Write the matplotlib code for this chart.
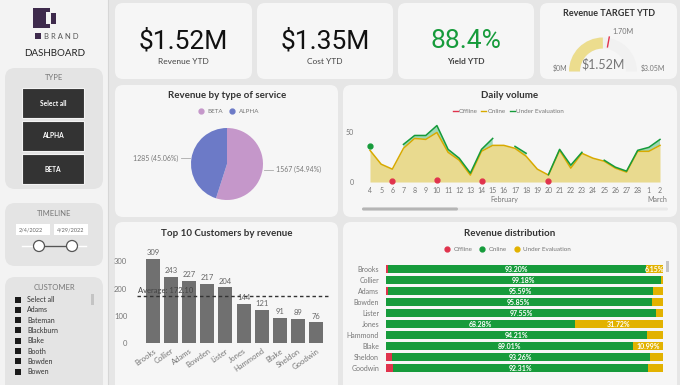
import numpy as np
import matplotlib.pyplot as plt
from matplotlib.patches import FancyBboxPatch, Rectangle, Circle, Wedge
from matplotlib.lines import Line2D

plt.rcParams['font.family'] = ['Lato', 'DejaVu Sans']

# ---- data ----
kpi_values = ['$1.52M', '$1.35M', '88.4%']
kpi_labels = ['Revenue YTD', 'Cost YTD', 'Yield YTD']
revenue_ytd = 1.52
revenue_target = 1.70
gauge_max = 3.05

service_types = ['BETA', 'ALPHA']
service_revenue = [1567, 1285]

day_labels = ['4', '5', '6', '7', '8', '9', '10', '11', '12', '13', '14', '15', '16',
              '17', '18', '19', '20', '21', '22', '23', '24', '25', '26', '27', '28', '1', '2']
nan = np.nan
offline = [nan, nan, 1, nan, nan, nan, 2, nan, nan, nan, 1, nan, nan, nan,
           nan, nan, 1, nan, nan, nan, nan, nan, nan, nan, nan, nan, nan]
online = [32, 18, 12, 34, 44, 43, 48, 30, 22, 7, 30, 37, 37, 34,
          26, 13, 6, 32, 14, 29, 24, 21, 14, 10, 31, 31, 37]
under_eval = [4, nan, nan, 4, 3, 4, 7, 3, 2, 2, 2, 7, nan, 2,
              3, nan, 0.5, 1, 3, 1, nan, 1, 1, 1, 1, 4, 6]

top_customers = ['Brooks', 'Collier', 'Adams', 'Bowden', 'Lister', 'Jones',
                 'Hammond', 'Blake', 'Sheldon', 'Goodwin']
top_revenue = [309, 243, 227, 217, 204, 144, 121, 91, 89, 76]
avg_revenue = 172.10

dist_offline = [0.65, 0.0, 0.84, 0.0, 0.0, 0.0, 0.0, 0.0, 2.05, 2.40]
dist_online = [93.20, 99.18, 95.59, 95.85, 97.55, 68.28, 94.21, 89.01, 93.26, 92.31]
dist_eval = [6.15, 0.82, 3.57, 4.15, 2.45, 31.72, 5.79, 10.99, 4.69, 5.29]

type_buttons = ['Select all', 'ALPHA', 'BETA']
date_range = ['2/4/2022', '4/29/2022']
customer_list = ['Select all', 'Adams', 'Bateman', 'Blackburn', 'Blake', 'Booth', 'Bowden', 'Bowen']

# ---- colours ----
c_off = '#e0334d'
c_on = '#169b3b'
c_ue = '#e2b200'
c_beta = '#c597ca'
c_alpha = '#6c7ac7'
grey_txt = '#777777'

W, H = 680, 385
fig = plt.figure(figsize=(6.8, 3.85), dpi=100)
fig.patch.set_facecolor('#e6e6e6')

bg = fig.add_axes([0, 0, 1, 1])
bg.set_xlim(0, W)
bg.set_ylim(H, 0)
bg.axis('off')


def px_axes(x0, y0, x1, y1):
    a = fig.add_axes([x0 / W, 1 - y1 / H, (x1 - x0) / W, (y1 - y0) / H])
    a.set_facecolor('none')
    return a


def card(x0, y0, x1, y1, color='#f6f6f6', r=8):
    bg.add_patch(FancyBboxPatch((x0, y0), x1 - x0, y1 - y0,
                                boxstyle='round,pad=0,rounding_size=%d' % r,
                                fc=color, ec='none'))


# sidebar
bg.add_patch(Rectangle((0, 0), 108, H, fc='#f3f3f3', ec='none'))
bg.plot([108, 108], [0, H], color='#d6d6d6', lw=0.8)
bg.add_patch(Rectangle((33, 8), 17, 20, fc='#3e2a4c', ec='none'))
bg.add_patch(Rectangle((46, 12), 5, 12, fc='#f3f3f3', ec='none'))
bg.add_patch(Rectangle((51, 13), 5, 11, fc='#3e2a4c', ec='none'))
bg.add_patch(Rectangle((35, 33), 6, 6, fc='#3e2a4c', ec='none'))
bg.text(44, 36.5, 'B R A N D', fontsize=5.5, color='#555555', va='center')
bg.text(55, 53, 'DASHBOARD', fontsize=7, color='#222222', ha='center', va='center')

card(5, 68, 103, 189, '#e4e4e4', 10)
bg.text(54, 78, 'TYPE', fontsize=5.5, color=grey_txt, ha='center', va='center')
for i, lab in enumerate(type_buttons):
    y0 = 88 + i * 33
    bg.add_patch(Rectangle((22, y0), 62, 30, fc='#333333', ec='#f3f3f3', lw=0.8))
    bg.text(53, y0 + 15, lab, fontsize=4.8, color='white', weight='bold', ha='center', va='center')

card(5, 203, 103, 266, '#e4e4e4', 10)
bg.text(54, 213, 'TIMELINE', fontsize=5.5, color=grey_txt, ha='center', va='center')
for i, d in enumerate(date_range):
    x0 = 16 + i * 38
    bg.add_patch(Rectangle((x0, 224), 34, 11, fc='white', ec='none'))
    bg.text(x0 + 3, 229.5, d, fontsize=4, color='#666666', va='center')
bg.plot([22, 86], [246, 246], color='#ffffff', lw=1, zorder=2)
bg.plot([39, 72], [246, 246], color='#555555', lw=1, zorder=3)
for cx in [39, 72]:
    bg.add_patch(Circle((cx, 246), 5.5, fc='white', ec='#555555', lw=0.9, zorder=4))

card(5, 277, 103, 395, '#e4e4e4', 10)
bg.text(54, 288, 'CUSTOMER', fontsize=5.5, color=grey_txt, ha='center', va='center')
bg.add_patch(Rectangle((91, 294), 3, 11, fc='#c4c4c4', ec='none'))
for i, name in enumerate(customer_list):
    y = 299.5 + i * 10.3
    bg.add_patch(Rectangle((15, y - 3), 6, 6, fc='#1a1a1a', ec='none'))
    bg.text(27, y, name, fontsize=5, color='#333333', va='center')

# KPI cards
kpi_boxes = [(115, 252), (257, 393), (398, 534)]
for (x0, x1), val, lab in zip(kpi_boxes, kpi_values, kpi_labels):
    card(x0, 3, x1, 79)
    cx = (x0 + x1) / 2
    col = c_on if '%' in val else '#111111'
    bg.text(cx, 41, val, fontsize=19, color=col, ha='center', va='center', family=['Roboto', 'DejaVu Sans'])
    w = 'bold' if '%' in val else 'normal'
    bg.text(cx, 62, lab, fontsize=6, color='#444444', ha='center', va='center', weight=w)

# gauge
card(540, 3, 677, 79)
bg.text(609, 14, 'Revenue TARGET YTD', fontsize=6.5, color='#333333', ha='center', va='center', weight='bold')
gx, gy, r_out, r_in = 603, 71.5, 34, 23
frac = revenue_ytd / gauge_max
bg.add_patch(Wedge((gx, gy), r_out, 180, 360, width=r_out - r_in, fc='#f1f1f1', ec='none'))
bg.add_patch(Wedge((gx, gy), r_out, 180, 180 + frac * 180, width=r_out - r_in, fc='#ecdd8e', ec='none'))
ta = np.deg2rad(180 + revenue_target / gauge_max * 180)
bg.plot([gx + 25 * np.cos(ta), gx + 35 * np.cos(ta)], [gy + 25 * np.sin(ta), gy + 35 * np.sin(ta)],
        color=c_off, lw=1)
bg.text(612, 32, '%.2fM' % revenue_target, fontsize=5.2, color=grey_txt, va='center')
bg.text(gx, 64, '$%.2fM' % revenue_ytd, fontsize=9, color='#777777', ha='center', va='center')
bg.text(560, 68.5, '$0M', fontsize=5, color=grey_txt, ha='center', va='center')
bg.text(653, 68.5, '$%.2fM' % gauge_max, fontsize=5, color=grey_txt, ha='center', va='center')

# chart cards
card(115, 85, 338, 217)
card(343, 85, 677, 217)
card(115, 222, 338, 395)
card(343, 222, 677, 395)

# ---- pie ----
bg.text(227, 96, 'Revenue by type of service', fontsize=7, color='#333333', ha='center', va='center', weight='bold')
axp = px_axes(191, 128, 263, 200)
axp.pie(service_revenue, colors=[c_beta, c_alpha], startangle=90, counterclock=False, radius=1)
axp.set_xlim(-1, 1)
axp.set_ylim(-1, 1)
axp.set_aspect('equal')
tot = sum(service_revenue)
start = 90
for v, name in zip(service_revenue, service_types):
    span = v / tot * 360
    mid = np.deg2rad(start - span / 2)
    start -= span
    ex, ey = 1.04 * np.cos(mid), 1.04 * np.sin(mid)
    side = 1 if ex > 0 else -1
    axp.plot([ex, ex + side * 0.24], [ey, ey], color='#aaaaaa', lw=0.6, clip_on=False)
    axp.text(ex + side * 0.32, ey, '%d (%.2f%%)' % (v, v / tot * 100), fontsize=5, color=grey_txt,
             ha='left' if side > 0 else 'right', va='center', clip_on=False)
h_pie = [Line2D([], [], marker='o', ls='', color=c, markersize=3.5) for c in [c_beta, c_alpha]]
fig.legend(h_pie, service_types, loc='center', bbox_to_anchor=(227 / W, 1 - 111 / H), ncol=2,
           frameon=False, fontsize=4.5, handletextpad=0.1, columnspacing=0.5, labelcolor=grey_txt)

# ---- daily volume ----
bg.text(510, 96, 'Daily volume', fontsize=7, color='#333333', ha='center', va='center', weight='bold')
axd = px_axes(362, 120.6, 668, 184)
x = np.arange(len(day_labels))
off = np.array(offline, dtype=float)
on_top = np.nan_to_num(off) + np.array(online, dtype=float)
ue = np.array(under_eval, dtype=float)
ue_top = on_top + ue
axd.fill_between(x, 0, on_top, color='#e9da8f', lw=0)
axd.fill_between(x, on_top, ue_top, where=~np.isnan(ue), color='#9fd8b4', lw=0, interpolate=False)
axd.plot(x, on_top, color='#d8aa00', lw=1.1)
axd.plot(x, ue_top, color=c_on, lw=1.1)
iso = [i for i in range(len(x)) if not np.isnan(ue[i]) and (i == 0 or np.isnan(ue[i - 1]))
       and (i == len(x) - 1 or np.isnan(ue[i + 1]))]
axd.plot(x[iso], ue_top[iso], 'o', color=c_on, markersize=3.5)
axd.plot(x, off, 'o', color=c_off, markersize=3.5, clip_on=False)
axd.set_xlim(-0.717, 26.717)
axd.set_ylim(-2, 62)
axd.set_xticks(x)
axd.set_xticklabels(day_labels)
axd.set_yticks([0, 50])
axd.tick_params(length=0, labelsize=5, labelcolor=grey_txt, pad=2)
axd.tick_params(axis='y', pad=6)
for s in axd.spines.values():
    s.set_visible(False)
axd.text(12, -17.5, 'February', fontsize=5, color=grey_txt, ha='center', va='center', clip_on=False)
axd.text(24.85, -17.5, 'March', fontsize=5, color=grey_txt, ha='left', va='center', clip_on=False)
bg.add_patch(FancyBboxPatch((362, 207.5), 306, 3, boxstyle='round,pad=0,rounding_size=1.5', fc='#e9e9e9', ec='none'))
bg.add_patch(FancyBboxPatch((362, 207.5), 96, 3, boxstyle='round,pad=0,rounding_size=1.5', fc='#b5b5b5', ec='none'))
h_dv = [Line2D([], [], color=c, lw=1) for c in [c_off, '#d8aa00', c_on]]
fig.legend(h_dv, ['Offline', 'Online', 'Under Evaluation'], loc='center', bbox_to_anchor=(508 / W, 1 - 111 / H),
           ncol=3, frameon=False, fontsize=4.5, handlelength=0.8, handletextpad=0.2, columnspacing=0.6,
           labelcolor=grey_txt)

# ---- top 10 ----
bg.text(227, 234, 'Top 10 Customers by revenue', fontsize=7, color='#333333', ha='center', va='center', weight='bold')
axb = px_axes(137, 251, 330, 343)
bars = axb.bar(np.arange(len(top_customers)), top_revenue, width=0.77, color='#707070')
axb.bar_label(bars, padding=2, fontsize=5.5, color='#666666')
axb.axhline(avg_revenue, color='#333333', lw=1, ls=(0, (2.5, 2)))
axb.text(-0.83, avg_revenue + 8, 'Average: %.2f' % avg_revenue, fontsize=5.5, color='#444444', va='bottom')
axb.set_xlim(-0.88, 9.77)
axb.set_ylim(0, 338)
axb.set_yticks([0, 100, 200, 300])
axb.set_xticks(np.arange(len(top_customers)))
axb.set_xticklabels(top_customers, rotation=35, ha='right', rotation_mode='anchor')
axb.tick_params(length=0, labelsize=5.5, labelcolor=grey_txt, pad=3)
axb.tick_params(axis='y', pad=7)
for s in axb.spines.values():
    s.set_visible(False)

# ---- revenue distribution ----
bg.text(510, 233, 'Revenue distribution', fontsize=7, color='#333333', ha='center', va='center', weight='bold')
axr = px_axes(386, 262.7, 663, 374.9)
yy = np.arange(len(top_customers))
left_on = np.array(dist_offline)
left_ue = left_on + np.array(dist_online)
axr.barh(yy, dist_offline, height=0.75, color=c_off)
axr.barh(yy, dist_online, left=left_on, height=0.75, color=c_on)
axr.barh(yy, dist_eval, left=left_ue, height=0.75, color=c_ue)
for i in range(len(yy)):
    axr.text(left_on[i] + dist_online[i] / 2, yy[i], '%.2f%%' % dist_online[i], fontsize=5,
             color='white', weight='bold', ha='center', va='center')
    if dist_eval[i] > 6:
        axr.text(left_ue[i] + dist_eval[i] / 2, yy[i], '%.2f%%' % dist_eval[i], fontsize=5,
                 color='white', weight='bold', ha='center', va='center')
axr.set_xlim(0, 100)
axr.set_ylim(9.6, -0.6)
axr.set_yticks(yy)
axr.set_yticklabels(top_customers)
axr.set_xticks([])
axr.tick_params(length=0, labelsize=5, labelcolor=grey_txt, pad=5)
for s in axr.spines.values():
    s.set_visible(False)
bg.add_patch(Rectangle((666, 261), 3, 11, fc='#c4c4c4', ec='none'))
h_rd = [Line2D([], [], marker='o', ls='', color=c, markersize=3.5) for c in [c_off, c_on, c_ue]]
fig.legend(h_rd, ['Offline', 'Online', 'Under Evaluation'], loc='center', bbox_to_anchor=(506 / W, 1 - 249 / H),
           ncol=3, frameon=False, fontsize=4.5, handletextpad=0.1, columnspacing=0.5, labelcolor=grey_txt)

fig.savefig('out.png', dpi=100, facecolor=fig.get_facecolor())
